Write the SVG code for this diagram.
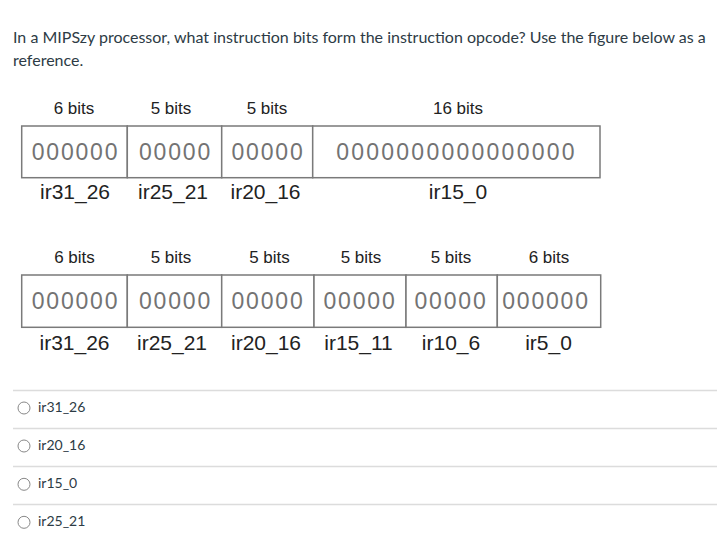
<svg xmlns="http://www.w3.org/2000/svg" width="728" height="549" viewBox="0 0 728 549">
<style>
.q{font-family:Lato,"Open Sans",sans-serif;font-size:16px;fill:#2d3b45}
.opt{font-family:Lato,"Open Sans",sans-serif;font-size:14px;fill:#2d3b45}
.bits{font-family:"Liberation Sans",Arial,sans-serif;font-size:17px;fill:#222;text-anchor:middle}
.lab{font-family:"Liberation Sans",Arial,sans-serif;font-size:21px;fill:#222;text-anchor:middle}
.z{font-family:"Liberation Sans",Arial,sans-serif;font-size:23px;fill:#737373;text-anchor:middle;letter-spacing:1.8px}
.cell{fill:#fff;stroke:#7a7a7a;stroke-width:1.5}
.sep{stroke:#dcdcdc;stroke-width:1.3}
.radio{fill:#fff;stroke:#888;stroke-width:1}
</style>
<rect width="728" height="549" fill="#fff"/>
<text class="q" x="13" y="43">In a MIPSzy processor, what instruction bits form the instruction opcode? Use the figure below as a</text>
<text class="q" x="13" y="66">reference.</text>

<g id="diagram1">
<text class="bits" x="74" y="114">6 bits</text>
<text class="bits" x="171" y="114">5 bits</text>
<text class="bits" x="267" y="114">5 bits</text>
<text class="bits" x="458" y="114">16 bits</text>
<rect class="cell" x="21.7" y="126" width="105.6" height="51.7"/>
<rect class="cell" x="127.3" y="126" width="94.4" height="51.7"/>
<rect class="cell" x="221.7" y="126" width="91" height="51.7"/>
<rect class="cell" x="312.7" y="126" width="287.3" height="51.7"/>
<text class="z" x="75.5" y="160">000000</text>
<text class="z" x="175.5" y="160">00000</text>
<text class="z" x="268" y="160">00000</text>
<text class="z" x="456.5" y="160" style="letter-spacing:2.25px">0000000000000000</text>
<text class="lab" x="75" y="199">ir31_26</text>
<text class="lab" x="173" y="199">ir25_21</text>
<text class="lab" x="265.5" y="199">ir20_16</text>
<text class="lab" x="458" y="199">ir15_0</text>
</g>

<g id="diagram2">
<text class="bits" x="74.5" y="263">6 bits</text>
<text class="bits" x="171" y="263">5 bits</text>
<text class="bits" x="269.5" y="263">5 bits</text>
<text class="bits" x="361" y="263">5 bits</text>
<text class="bits" x="451" y="263">5 bits</text>
<text class="bits" x="549" y="263">6 bits</text>
<rect class="cell" x="21.7" y="275" width="105.6" height="52.3"/>
<rect class="cell" x="127.3" y="275" width="94.4" height="52.3"/>
<rect class="cell" x="221.7" y="275" width="92.3" height="52.3"/>
<rect class="cell" x="314" y="275" width="92" height="52.3"/>
<rect class="cell" x="406" y="275" width="91.3" height="52.3"/>
<rect class="cell" x="497.3" y="275" width="103.4" height="52.3"/>
<text class="z" x="75.5" y="308.5">000000</text>
<text class="z" x="175.5" y="308.5">00000</text>
<text class="z" x="268" y="308.5">00000</text>
<text class="z" x="360" y="308.5">00000</text>
<text class="z" x="451" y="308.5">00000</text>
<text class="z" x="546" y="308.5">000000</text>
<text class="lab" x="74.5" y="350">ir31_26</text>
<text class="lab" x="172" y="350">ir25_21</text>
<text class="lab" x="266" y="350">ir20_16</text>
<text class="lab" x="358.5" y="350">ir15_11</text>
<text class="lab" x="451" y="350">ir10_6</text>
<text class="lab" x="548.5" y="350">ir5_0</text>
</g>

<g id="options">
<line class="sep" x1="13" y1="390.5" x2="717" y2="390.5"/>
<circle class="radio" cx="24" cy="408" r="6"/>
<text class="opt" x="38" y="412">ir31_26</text>
<line class="sep" x1="13" y1="428.5" x2="717" y2="428.5"/>
<circle class="radio" cx="24" cy="446" r="6"/>
<text class="opt" x="38" y="450">ir20_16</text>
<line class="sep" x1="13" y1="466.5" x2="717" y2="466.5"/>
<circle class="radio" cx="24" cy="484.3" r="6"/>
<text class="opt" x="38" y="488">ir15_0</text>
<line class="sep" x1="13" y1="504.5" x2="717" y2="504.5"/>
<circle class="radio" cx="24" cy="522.3" r="6"/>
<text class="opt" x="38" y="526">ir25_21</text>
</g>
</svg>
